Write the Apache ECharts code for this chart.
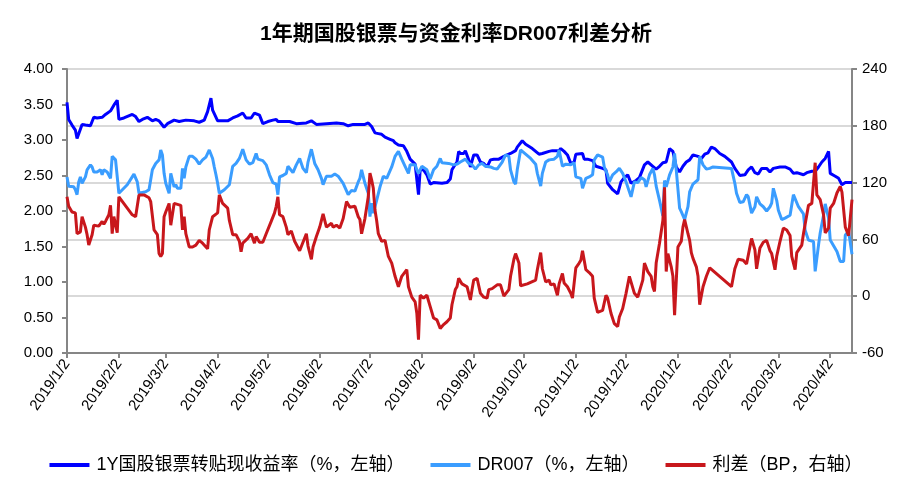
<!DOCTYPE html>
<html style="height: 100%">
<head>
    <meta charset="utf-8">
</head>
<body style="height: 100%; margin: 0">
    <div id="container" style="width: 912px; height: 488px"></div>

    <script type="text/javascript" src="https://cdn.jsdelivr.net/npm/echarts@6/dist/echarts.min.js"></script>
    <script type="text/javascript">
        // 月度刻度（每月2日）
        var tickLabels = ['2019/1/2', '2019/2/2', '2019/3/2', '2019/4/2', '2019/5/2', '2019/6/2', '2019/7/2', '2019/8/2',
            '2019/9/2', '2019/10/2', '2019/11/2', '2019/12/2', '2020/1/2', '2020/2/2', '2020/3/2', '2020/4/2'];
        var axisStart = '2019/1/2';
        var axisEnd = '2020/4/15';
        var seriesNames = ['1Y国股银票转贴现收益率（%，左轴）', 'DR007（%，左轴）', '利差（BP，右轴）'];

        // 1Y国股银票转贴现收益率（%）
        var billRate = [['2019-1-2',3.53],['2019-1-3',3.29],['2019-1-5',3.21],['2019-1-7',3.14],['2019-1-8',3.02],['2019-1-9',3.04],['2019-1-11',3.22],['2019-1-13',3.21],['2019-1-16',3.20],['2019-1-18',3.32],['2019-1-20',3.31],['2019-1-23',3.32],['2019-1-25',3.36],['2019-1-28',3.41],['2019-1-30',3.49],['2019-2-1',3.56],['2019-2-2',3.29],['2019-2-5',3.31],['2019-2-10',3.36],['2019-2-12',3.33],['2019-2-14',3.26],['2019-2-16',3.29],['2019-2-19',3.32],['2019-2-22',3.27],['2019-2-24',3.29],['2019-2-26',3.27],['2019-2-27',3.24],['2019-3-1',3.18],['2019-3-3',3.23],['2019-3-7',3.28],['2019-3-10',3.26],['2019-3-14',3.28],['2019-3-19',3.27],['2019-3-22',3.25],['2019-3-25',3.28],['2019-3-27',3.40],['2019-3-29',3.59],['2019-3-30',3.42],['2019-4-2',3.27],['2019-4-8',3.27],['2019-4-11',3.31],['2019-4-14',3.34],['2019-4-17',3.38],['2019-4-19',3.31],['2019-4-22',3.31],['2019-4-24',3.38],['2019-4-25',3.38],['2019-4-27',3.35],['2019-4-29',3.23],['2019-5-2',3.26],['2019-5-5',3.28],['2019-5-7',3.29],['2019-5-8',3.26],['2019-5-15',3.26],['2019-5-19',3.23],['2019-5-25',3.24],['2019-5-28',3.27],['2019-5-31',3.22],['2019-6-12',3.24],['2019-6-16',3.23],['2019-6-19',3.20],['2019-6-22',3.22],['2019-6-27',3.22],['2019-6-29',3.22],['2019-7-1',3.24],['2019-7-3',3.19],['2019-7-5',3.10],['2019-7-7',3.09],['2019-7-9',3.08],['2019-7-11',3.04],['2019-7-14',3.01],['2019-7-16',2.99],['2019-7-17',2.96],['2019-7-19',2.93],['2019-7-22',2.92],['2019-7-24',2.84],['2019-7-26',2.73],['2019-7-29',2.66],['2019-7-30',2.66],['2019-7-31',2.23],['2019-8-1',2.58],['2019-8-3',2.58],['2019-8-5',2.51],['2019-8-7',2.38],['2019-8-9',2.40],['2019-8-14',2.39],['2019-8-17',2.40],['2019-8-19',2.45],['2019-8-20',2.58],['2019-8-21',2.62],['2019-8-23',2.69],['2019-8-24',2.84],['2019-8-25',2.81],['2019-8-27',2.81],['2019-8-28',2.85],['2019-8-30',2.72],['2019-8-31',2.62],['2019-9-2',2.79],['2019-9-3',2.81],['2019-9-4',2.79],['2019-9-6',2.69],['2019-9-8',2.67],['2019-9-10',2.62],['2019-9-12',2.72],['2019-9-14',2.73],['2019-9-17',2.73],['2019-9-20',2.77],['2019-9-22',2.79],['2019-9-24',2.81],['2019-9-27',2.85],['2019-9-28',2.90],['2019-10-1',2.99],['2019-10-3',2.94],['2019-10-7',2.88],['2019-10-11',2.80],['2019-10-13',2.81],['2019-10-17',2.84],['2019-10-19',2.85],['2019-10-23',2.85],['2019-10-24',2.88],['2019-10-26',2.84],['2019-10-28',2.79],['2019-10-30',2.67],['2019-11-1',2.69],['2019-11-2',2.80],['2019-11-6',2.81],['2019-11-7',2.73],['2019-11-9',2.73],['2019-11-12',2.71],['2019-11-14',2.63],['2019-11-18',2.60],['2019-11-20',2.58],['2019-11-21',2.39],['2019-11-24',2.30],['2019-11-27',2.24],['2019-11-29',2.41],['2019-12-1',2.47],['2019-12-3',2.51],['2019-12-5',2.39],['2019-12-8',2.43],['2019-12-10',2.47],['2019-12-13',2.65],['2019-12-15',2.69],['2019-12-16',2.68],['2019-12-18',2.63],['2019-12-20',2.59],['2019-12-22',2.63],['2019-12-24',2.68],['2019-12-26',2.69],['2019-12-28',2.88],['2019-12-30',2.84],['2020-1-1',2.62],['2020-1-3',2.55],['2020-1-5',2.63],['2020-1-7',2.69],['2020-1-9',2.72],['2020-1-11',2.79],['2020-1-14',2.77],['2020-1-16',2.74],['2020-1-18',2.80],['2020-1-20',2.82],['2020-1-22',2.90],['2020-1-24',2.88],['2020-1-27',2.81],['2020-1-30',2.77],['2020-2-3',2.69],['2020-2-5',2.60],['2020-2-8',2.50],['2020-2-11',2.51],['2020-2-13',2.58],['2020-2-15',2.62],['2020-2-17',2.54],['2020-2-19',2.52],['2020-2-21',2.60],['2020-2-24',2.60],['2020-2-26',2.55],['2020-2-28',2.60],['2020-3-3',2.62],['2020-3-6',2.62],['2020-3-9',2.59],['2020-3-11',2.53],['2020-3-13',2.54],['2020-3-17',2.51],['2020-3-19',2.54],['2020-3-22',2.56],['2020-3-24',2.56],['2020-3-26',2.62],['2020-3-28',2.69],['2020-3-30',2.74],['2020-4-1',2.84],['2020-4-2',2.53],['2020-4-5',2.49],['2020-4-7',2.46],['2020-4-9',2.37],['2020-4-11',2.40],['2020-4-15',2.40]];

        // DR007（%）
        var dr007 = [['2019-1-2',2.48],['2019-1-3',2.35],['2019-1-4',2.37],['2019-1-6',2.34],['2019-1-7',2.30],['2019-1-8',2.23],['2019-1-9',2.41],['2019-1-10',2.48],['2019-1-11',2.39],['2019-1-13',2.48],['2019-1-14',2.58],['2019-1-16',2.65],['2019-1-17',2.62],['2019-1-18',2.55],['2019-1-20',2.55],['2019-1-22',2.58],['2019-1-23',2.51],['2019-1-24',2.58],['2019-1-26',2.55],['2019-1-28',2.46],['2019-1-29',2.77],['2019-1-31',2.72],['2019-2-1',2.71],['2019-2-2',2.25],['2019-2-7',2.37],['2019-2-11',2.52],['2019-2-13',2.41],['2019-2-14',2.25],['2019-2-15',2.23],['2019-2-18',2.27],['2019-2-20',2.30],['2019-2-21',2.32],['2019-2-22',2.58],['2019-2-24',2.67],['2019-2-26',2.72],['2019-2-27',2.86],['2019-2-28',2.79],['2019-3-1',2.53],['2019-3-2',2.39],['2019-3-4',2.25],['2019-3-5',2.53],['2019-3-7',2.34],['2019-3-8',2.37],['2019-3-9',2.32],['2019-3-11',2.32],['2019-3-12',2.60],['2019-3-13',2.46],['2019-3-14',2.62],['2019-3-16',2.77],['2019-3-18',2.77],['2019-3-20',2.73],['2019-3-22',2.66],['2019-3-24',2.72],['2019-3-26',2.76],['2019-3-28',2.86],['2019-3-30',2.74],['2019-3-31',2.62],['2019-4-1',2.51],['2019-4-2',2.39],['2019-4-3',2.25],['2019-4-6',2.30],['2019-4-9',2.37],['2019-4-11',2.63],['2019-4-13',2.67],['2019-4-15',2.74],['2019-4-17',2.87],['2019-4-19',2.72],['2019-4-21',2.66],['2019-4-23',2.68],['2019-4-25',2.81],['2019-4-26',2.73],['2019-4-27',2.72],['2019-4-29',2.71],['2019-5-1',2.65],['2019-5-3',2.51],['2019-5-5',2.40],['2019-5-7',2.38],['2019-5-8',2.23],['2019-5-9',2.48],['2019-5-11',2.50],['2019-5-13',2.53],['2019-5-14',2.63],['2019-5-17',2.54],['2019-5-19',2.65],['2019-5-21',2.74],['2019-5-23',2.60],['2019-5-25',2.54],['2019-5-26',2.69],['2019-5-28',2.87],['2019-5-30',2.67],['2019-6-1',2.58],['2019-6-3',2.46],['2019-6-4',2.37],['2019-6-6',2.49],['2019-6-9',2.49],['2019-6-11',2.52],['2019-6-13',2.49],['2019-6-16',2.39],['2019-6-19',2.23],['2019-6-21',2.29],['2019-6-23',2.28],['2019-6-25',2.41],['2019-6-26',2.46],['2019-6-27',2.58],['2019-6-29',2.39],['2019-7-1',2.25],['2019-7-2',1.92],['2019-7-3',2.11],['2019-7-4',1.97],['2019-7-6',2.15],['2019-7-8',2.34],['2019-7-10',2.49],['2019-7-12',2.46],['2019-7-15',2.62],['2019-7-17',2.77],['2019-7-19',2.84],['2019-7-21',2.73],['2019-7-23',2.63],['2019-7-25',2.53],['2019-7-26',2.65],['2019-7-29',2.65],['2019-7-30',2.58],['2019-7-31',2.53],['2019-8-2',2.63],['2019-8-5',2.58],['2019-8-7',2.45],['2019-8-9',2.58],['2019-8-11',2.63],['2019-8-13',2.74],['2019-8-14',2.68],['2019-8-18',2.67],['2019-8-21',2.65],['2019-8-23',2.66],['2019-8-25',2.69],['2019-8-28',2.73],['2019-8-30',2.67],['2019-9-1',2.65],['2019-9-3',2.59],['2019-9-5',2.65],['2019-9-7',2.67],['2019-9-9',2.63],['2019-9-12',2.62],['2019-9-14',2.60],['2019-9-16',2.59],['2019-9-19',2.69],['2019-9-21',2.79],['2019-9-23',2.77],['2019-9-24',2.58],['2019-9-26',2.41],['2019-9-27',2.38],['2019-9-28',2.58],['2019-9-30',2.86],['2019-10-3',2.80],['2019-10-6',2.74],['2019-10-9',2.66],['2019-10-10',2.53],['2019-10-12',2.35],['2019-10-13',2.53],['2019-10-15',2.69],['2019-10-17',2.72],['2019-10-20',2.73],['2019-10-22',2.77],['2019-10-23',2.86],['2019-10-25',2.63],['2019-10-27',2.66],['2019-10-30',2.65],['2019-11-1',2.68],['2019-11-2',2.48],['2019-11-5',2.46],['2019-11-6',2.32],['2019-11-8',2.46],['2019-11-10',2.48],['2019-11-12',2.51],['2019-11-13',2.72],['2019-11-15',2.79],['2019-11-18',2.76],['2019-11-19',2.62],['2019-11-21',2.51],['2019-11-22',2.41],['2019-11-24',2.51],['2019-11-26',2.55],['2019-11-28',2.60],['2019-11-30',2.53],['2019-12-2',2.41],['2019-12-3',2.39],['2019-12-5',2.20],['2019-12-7',2.41],['2019-12-9',2.40],['2019-12-11',2.47],['2019-12-13',2.44],['2019-12-14',2.34],['2019-12-16',2.51],['2019-12-18',2.60],['2019-12-19',2.51],['2019-12-20',2.35],['2019-12-22',2.15],['2019-12-24',1.93],['2019-12-25',2.43],['2019-12-26',2.34],['2019-12-28',2.51],['2019-12-30',2.62],['2019-12-31',2.81],['2020-1-1',2.58],['2020-1-3',2.04],['2020-1-4',1.99],['2020-1-6',1.88],['2020-1-8',2.06],['2020-1-9',2.27],['2020-1-11',2.38],['2020-1-14',2.44],['2020-1-15',2.77],['2020-1-17',2.65],['2020-1-19',2.59],['2020-1-21',2.60],['2020-1-23',2.62],['2020-2-3',2.60],['2020-2-5',2.39],['2020-2-6',2.25],['2020-2-8',2.12],['2020-2-10',2.13],['2020-2-12',2.23],['2020-2-13',2.20],['2020-2-15',1.97],['2020-2-17',2.06],['2020-2-18',2.20],['2020-2-20',2.10],['2020-2-22',2.06],['2020-2-24',2.00],['2020-2-26',2.06],['2020-2-27',2.11],['2020-2-28',2.32],['2020-3-1',2.15],['2020-3-2',2.01],['2020-3-4',1.88],['2020-3-6',1.90],['2020-3-9',1.94],['2020-3-11',2.23],['2020-3-12',2.24],['2020-3-14',2.06],['2020-3-17',1.96],['2020-3-18',1.73],['2020-3-20',1.59],['2020-3-23',1.57],['2020-3-24',1.15],['2020-3-26',1.52],['2020-3-27',1.69],['2020-3-29',1.94],['2020-3-30',2.10],['2020-4-1',1.90],['2020-4-2',1.59],['2020-4-6',1.43],['2020-4-8',1.29],['2020-4-10',1.29],['2020-4-11',1.66],['2020-4-13',1.71],['2020-4-15',1.39]];

        // 利差（BP）
        var spreadBp = [['2019-1-2',105],['2019-1-3',95],['2019-1-5',89],['2019-1-7',88],['2019-1-8',66],['2019-1-9',65],['2019-1-10',68],['2019-1-11',84],['2019-1-13',73],['2019-1-14',65],['2019-1-15',54],['2019-1-17',65],['2019-1-18',75],['2019-1-19',76],['2019-1-21',74],['2019-1-23',79],['2019-1-24',76],['2019-1-25',79],['2019-1-27',86],['2019-1-28',96],['2019-1-29',66],['2019-1-30',84],['2019-1-31',86],['2019-2-1',67],['2019-2-2',105],['2019-2-10',86],['2019-2-12',84],['2019-2-14',107],['2019-2-17',107],['2019-2-20',104],['2019-2-21',100],['2019-2-23',70],['2019-2-25',65],['2019-2-26',45],['2019-2-27',42],['2019-2-28',45],['2019-3-1',84],['2019-3-2',89],['2019-3-4',98],['2019-3-5',75],['2019-3-7',98],['2019-3-9',97],['2019-3-11',96],['2019-3-12',70],['2019-3-13',84],['2019-3-14',66],['2019-3-16',52],['2019-3-18',52],['2019-3-20',54],['2019-3-22',59],['2019-3-24',56],['2019-3-27',50],['2019-3-28',70],['2019-3-30',84],['2019-3-31',83],['2019-4-2',88],['2019-4-3',107],['2019-4-5',98],['2019-4-8',93],['2019-4-9',80],['2019-4-11',65],['2019-4-13',65],['2019-4-15',58],['2019-4-16',47],['2019-4-17',56],['2019-4-20',61],['2019-4-22',66],['2019-4-24',56],['2019-4-25',63],['2019-4-27',57],['2019-4-29',57],['2019-5-1',66],['2019-5-4',79],['2019-5-6',88],['2019-5-7',95],['2019-5-8',105],['2019-5-9',86],['2019-5-11',84],['2019-5-13',73],['2019-5-14',65],['2019-5-16',69],['2019-5-18',58],['2019-5-21',48],['2019-5-23',57],['2019-5-25',66],['2019-5-26',53],['2019-5-28',39],['2019-5-29',52],['2019-5-31',63],['2019-6-2',73],['2019-6-4',87],['2019-6-6',73],['2019-6-9',77],['2019-6-10',73],['2019-6-12',75],['2019-6-14',72],['2019-6-16',82],['2019-6-18',100],['2019-6-20',94],['2019-6-23',95],['2019-6-25',84],['2019-6-26',81],['2019-6-27',66],['2019-6-29',82],['2019-7-1',105],['2019-7-2',130],['2019-7-3',123],['2019-7-4',114],['2019-7-5',91],['2019-7-6',80],['2019-7-7',66],['2019-7-9',58],['2019-7-11',59],['2019-7-13',42],['2019-7-15',35],['2019-7-17',21],['2019-7-19',10],['2019-7-21',21],['2019-7-24',28],['2019-7-25',10],['2019-7-27',-1],['2019-7-29',-6],['2019-7-30',-18],['2019-7-31',-46],['2019-8-1',1],['2019-8-3',-2],['2019-8-4',0],['2019-8-5',1],['2019-8-7',-11],['2019-8-9',-23],['2019-8-11',-25],['2019-8-13',-34],['2019-8-15',-30],['2019-8-17',-27],['2019-8-19',-23],['2019-8-20',-9],['2019-8-22',7],['2019-8-23',10],['2019-8-24',19],['2019-8-26',13],['2019-8-27',14],['2019-8-29',10],['2019-8-31',-4],['2019-9-1',7],['2019-9-2',17],['2019-9-4',19],['2019-9-6',3],['2019-9-8',-1],['2019-9-10',-2],['2019-9-11',7],['2019-9-13',8],['2019-9-16',12],['2019-9-18',12],['2019-9-20',0],['2019-9-21',-2],['2019-9-23',7],['2019-9-24',21],['2019-9-26',39],['2019-9-27',45],['2019-9-29',35],['2019-9-30',11],['2019-10-4',13],['2019-10-9',17],['2019-10-10',28],['2019-10-12',46],['2019-10-13',29],['2019-10-15',15],['2019-10-17',17],['2019-10-18',12],['2019-10-20',13],['2019-10-21',14],['2019-10-22',1],['2019-10-23',13],['2019-10-25',24],['2019-10-26',14],['2019-10-28',10],['2019-10-30',3],['2019-10-31',-2],['2019-11-2',30],['2019-11-4',35],['2019-11-5',38],['2019-11-6',48],['2019-11-8',28],['2019-11-10',25],['2019-11-12',21],['2019-11-13',-2],['2019-11-15',-17],['2019-11-18',-15],['2019-11-20',1],['2019-11-21',-2],['2019-11-23',-18],['2019-11-25',-29],['2019-11-27',-32],['2019-11-28',-22],['2019-11-30',-13],['2019-12-2',3],['2019-12-4',21],['2019-12-5',19],['2019-12-7',3],['2019-12-9',-1],['2019-12-10',1],['2019-12-12',17],['2019-12-13',35],['2019-12-15',26],['2019-12-17',21],['2019-12-18',10],['2019-12-19',5],['2019-12-20',35],['2019-12-22',56],['2019-12-24',80],['2019-12-25',115],['2019-12-26',26],['2019-12-27',45],['2019-12-29',31],['2019-12-30',21],['2019-12-31',-20],['2020-1-2',52],['2020-1-4',58],['2020-1-5',73],['2020-1-6',81],['2020-1-8',66],['2020-1-9',59],['2020-1-10',46],['2020-1-11',40],['2020-1-13',31],['2020-1-14',21],['2020-1-15',-9],['2020-1-17',10],['2020-1-19',21],['2020-1-21',30],['2020-2-3',10],['2020-2-5',29],['2020-2-7',39],['2020-2-10',38],['2020-2-12',34],['2020-2-13',35],['2020-2-15',61],['2020-2-17',49],['2020-2-18',29],['2020-2-20',51],['2020-2-22',57],['2020-2-24',59],['2020-2-26',48],['2020-2-27',45],['2020-2-29',28],['2020-3-1',42],['2020-3-3',58],['2020-3-5',72],['2020-3-7',70],['2020-3-9',64],['2020-3-10',42],['2020-3-12',28],['2020-3-13',46],['2020-3-16',54],['2020-3-17',66],['2020-3-19',86],['2020-3-20',96],['2020-3-22',98],['2020-3-23',98],['2020-3-24',141],['2020-3-25',107],['2020-3-27',102],['2020-3-29',86],['2020-3-30',67],['2020-4-1',72],['2020-4-2',93],['2020-4-4',98],['2020-4-6',109],['2020-4-8',116],['2020-4-9',110],['2020-4-11',73],['2020-4-13',64],['2020-4-15',102]];

        function toTime(s) {
            var p = s.split(/[\/-]/);
            return new Date(+p[0], +p[1] - 1, +p[2]).getTime();
        }
        function toPoints(arr) {
            return arr.map(function (p) { return [toTime(p[0]), p[1]]; });
        }
        var tickValues = tickLabels.map(toTime);

        var dom = document.getElementById("container");
        var myChart = echarts.init(dom);
        var axisGray = '#868686';
        var font = "'Liberation Sans', 'Noto Sans CJK SC', sans-serif";

        var option = {
            animation: false,
            title: {
                text: '1年期国股银票与资金利率DR007利差分析',
                left: 'center',
                top: 19,
                textStyle: { fontSize: 21, fontWeight: 'bold', color: '#000', fontFamily: font }
            },
            legend: {
                top: 451,
                left: 'center',
                itemWidth: 40,
                itemHeight: 4,
                itemGap: 26,
                data: seriesNames.map(function (n) { return { name: n, icon: 'rect' }; }),
                textStyle: { fontSize: 18, color: '#000', fontFamily: font, padding: [0, 0, 0, 2] }
            },
            grid: { left: 67, right: 60, top: 69, bottom: 135 },
            xAxis: {
                type: 'value',
                min: toTime(axisStart),
                max: toTime(axisEnd),
                axisLine: { onZero: false, lineStyle: { color: axisGray, width: 2 } },
                axisTick: { customValues: tickValues, length: 5, lineStyle: { color: axisGray, width: 2 } },
                axisLabel: {
                    customValues: tickValues,
                    rotate: 55,
                    margin: 8,
                    fontSize: 15,
                    color: '#000',
                    fontFamily: font,
                    formatter: function (v) {
                        var d = new Date(v);
                        return d.getFullYear() + '/' + (d.getMonth() + 1) + '/' + d.getDate();
                    }
                },
                splitLine: { show: false }
            },
            yAxis: [
                {
                    type: 'value',
                    min: 0,
                    max: 4,
                    interval: 0.5,
                    axisLine: { show: true, lineStyle: { color: axisGray, width: 2 } },
                    axisTick: { show: true, length: 5, lineStyle: { color: axisGray, width: 2 } },
                    axisLabel: {
                        margin: 14, fontSize: 15, color: '#000', fontFamily: font,
                        formatter: function (v) { return v.toFixed(2); }
                    },
                    splitLine: { show: false }
                },
                {
                    type: 'value',
                    min: -60,
                    max: 240,
                    interval: 60,
                    axisLine: { show: true, lineStyle: { color: axisGray, width: 2 } },
                    axisTick: { show: true, length: 5, lineStyle: { color: axisGray, width: 2 } },
                    axisLabel: { margin: 10, fontSize: 15, color: '#000', fontFamily: font },
                    splitLine: { show: true, lineStyle: { color: '#d9d9d9', width: 2 } }
                }
            ],
            series: [
                {
                    name: seriesNames[0],
                    type: 'line',
                    yAxisIndex: 0,
                    symbol: 'none',
                    lineStyle: { width: 3, color: '#0000ff' },
                    itemStyle: { color: '#0000ff' },
                    data: toPoints(billRate)
                },
                {
                    name: seriesNames[1],
                    type: 'line',
                    yAxisIndex: 0,
                    symbol: 'none',
                    lineStyle: { width: 3, color: '#3a9dff' },
                    itemStyle: { color: '#3a9dff' },
                    data: toPoints(dr007)
                },
                {
                    name: seriesNames[2],
                    type: 'line',
                    yAxisIndex: 1,
                    symbol: 'none',
                    lineStyle: { width: 3, color: '#c8171c' },
                    itemStyle: { color: '#c8171c' },
                    data: toPoints(spreadBp)
                }
            ]
        };
        myChart.setOption(option);
    </script>
</body>
</html>
